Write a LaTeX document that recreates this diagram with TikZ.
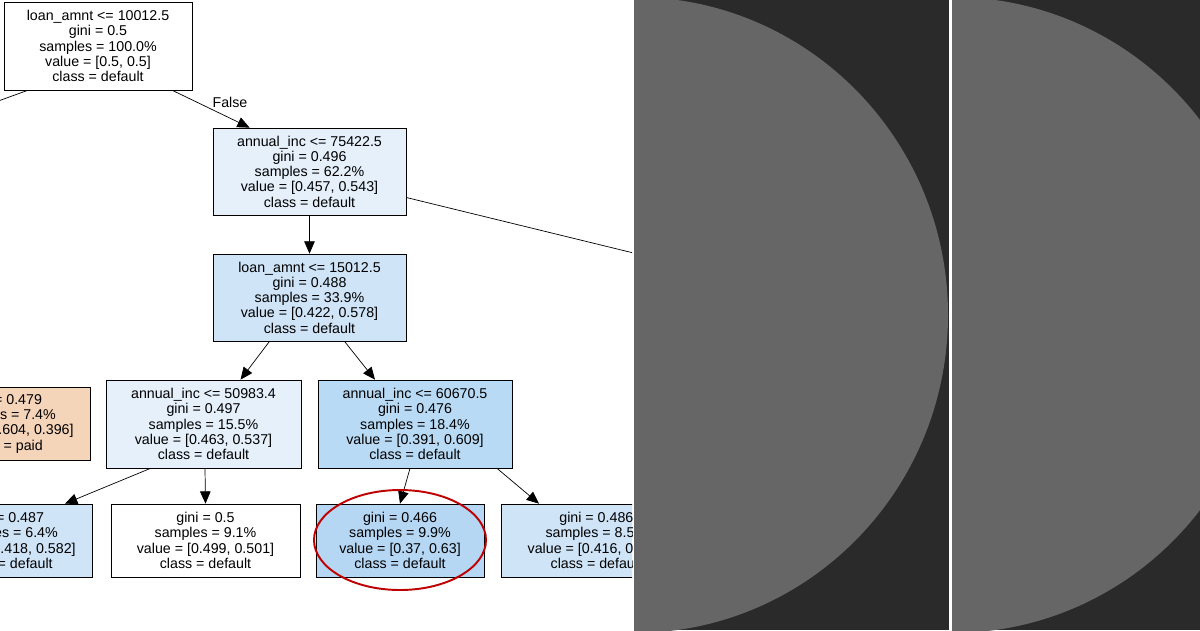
\documentclass[tikz,border=0pt]{standalone}
\usepackage{fontspec}
\setmainfont{Liberation Sans}
\usetikzlibrary{arrows.meta,calc}
\definecolor{blueA}{HTML}{E5F0FB}
\definecolor{blueB}{HTML}{CFE4F7}
\definecolor{blueC}{HTML}{B9DAF5}
\definecolor{blueD}{HTML}{B5D7F4}
\definecolor{orangeA}{HTML}{F5D5BA}
\definecolor{panel}{HTML}{2A2A2A}
\definecolor{disc}{HTML}{666666}
\begin{document}
\begin{tikzpicture}[x=0.02cm, y=-0.02cm,
  box/.style={draw, thin, align=center, font=\fontsize{8.1}{8.7}\selectfont, inner sep=1pt},
  edge/.style={-{Triangle[length=7pt,width=6pt]}, thin}]
\useasboundingbox (0,0) rectangle (1200,630);
\fill[white] (0,0) rectangle (634,630);
\begin{scope}
\clip (0,0) rectangle (632,630);
%level 0
\node[box, minimum width=188*0.02cm, minimum height=88*0.02cm] (root) at (98,46) {loan\_amnt <= 10012.5\\gini = 0.5\\samples = 100.0\%\\value = [0.5, 0.5]\\class = default};
%level 1
\node[box, fill=blueA, minimum width=193*0.02cm, minimum height=87*0.02cm] (inc1) at (309.5,171.5) {annual\_inc <= 75422.5\\gini = 0.496\\samples = 62.2\%\\value = [0.457, 0.543]\\class = default};
\node[box, fill=blueB, minimum width=193*0.02cm, minimum height=87*0.02cm] (amnt2) at (309.5,297.5) {loan\_amnt <= 15012.5\\gini = 0.488\\samples = 33.9\%\\value = [0.422, 0.578]\\class = default};
%level 3
\node[box, fill=orangeA, minimum width=170*0.02cm, minimum height=73*0.02cm] (paid) at (5,423.5) {gini = 0.479\\samples = 7.4\%\\value = [0.604, 0.396]\\class = paid};
\node[box, fill=blueA, minimum width=195*0.02cm, minimum height=88*0.02cm] (inc3) at (203.5,424) {annual\_inc <= 50983.4\\gini = 0.497\\samples = 15.5\%\\value = [0.463, 0.537]\\class = default};
\node[box, fill=blueC, minimum width=194*0.02cm, minimum height=88*0.02cm] (inc4) at (415,424) {annual\_inc <= 60670.5\\gini = 0.476\\samples = 18.4\%\\value = [0.391, 0.609]\\class = default};
%leaves
\node[box, fill=blueB, minimum width=170*0.02cm, minimum height=73*0.02cm] (leafA) at (7,540.5) {gini = 0.487\\samples = 6.4\%\\value = [0.418, 0.582]\\class = default};
\node[box, minimum width=189*0.02cm, minimum height=73*0.02cm] (leafB) at (205.5,540.5) {gini = 0.5\\samples = 9.1\%\\value = [0.499, 0.501]\\class = default};
\node[box, fill=blueD, minimum width=168*0.02cm, minimum height=73*0.02cm] (leafC) at (400,540.5) {gini = 0.466\\samples = 9.9\%\\value = [0.37, 0.63]\\class = default};
\node[box, fill=blueB, minimum width=190*0.02cm, minimum height=73*0.02cm, anchor=west] (leafD) at (501,540.5) {gini = 0.486\\samples = 8.5\%\\value = [0.416, 0.584]\\class = default};
\coordinate (offL) at (-10,104);
\coordinate (offR) at (650,257);
%connectors
\draw[thin] ($(root.south west)+(24,0)$) -- (offL);
\draw[edge] ($(root.south east)+(-20,0)$) -- ($(inc1.north west)+(37,0)$);
\node[font=\fontsize{8.1}{8.7}\selectfont] (false) at (230,102) {False};
\draw[thin] ($(inc1.east)+(0,26)$) -- (offR);
\draw[edge] (inc1) -- (amnt2);
\draw[edge] ($(amnt2.south)+(-40,0)$) -- ($(inc3.north)+(37,0)$);
\draw[edge] ($(amnt2.south)+(35,0)$) -- ($(inc4.north)+(-40,0)$);
\draw[edge] ($(inc3.south)+(-53,0)$) -- ($(leafA.north)+(58,0)$);
\draw[edge] ($(inc3.south)+(1.5,0)$) -- (leafB.north);
\draw[edge] ($(inc4.south)+(-5,0)$) -- (leafC.north);
\draw[edge] ($(inc4.south)+(82,0)$) -- ($(leafD.north west)+(38,0)$);
\draw[red!75!black, line width=1.1pt] (400,540) ellipse (86 and 50);
\end{scope}
%panels
\fill[panel] (634,0) rectangle (949,630);
\fill[panel] (952,0) rectangle (1200,630);
\begin{scope}
\clip (634,0) rectangle (949,630);
\fill[disc] (634,315) ellipse (314 and 318);
\end{scope}
\begin{scope}
\clip (952,0) rectangle (1200,630);
\fill[disc] (952,315) ellipse (314 and 318);
\end{scope}
\end{tikzpicture}
\end{document}
